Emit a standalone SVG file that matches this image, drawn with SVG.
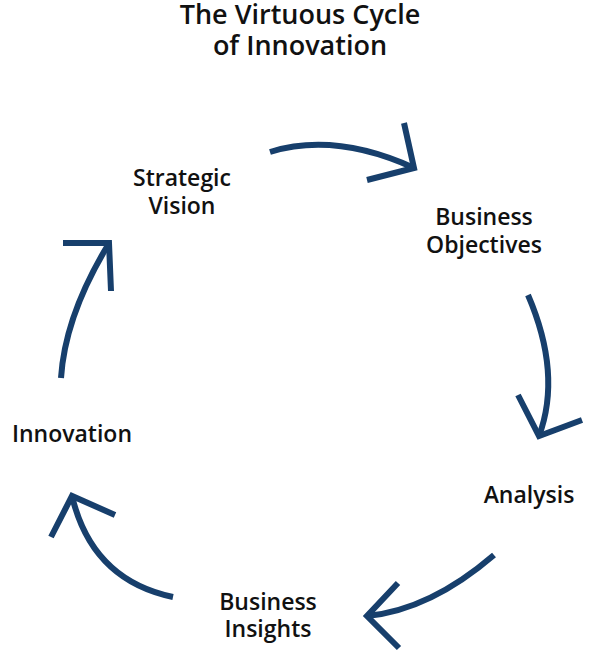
<svg xmlns="http://www.w3.org/2000/svg" width="600" height="662" viewBox="0 0 600 662">
<style>
.t{font-family:"Open Sans","Noto Sans","Liberation Sans",sans-serif;font-weight:550;fill:#111;text-anchor:middle}
.title{font-size:27px}
.lbl{font-size:23px}
.c{fill:none;stroke:#173f6c;stroke-width:6;stroke-linecap:butt;stroke-linejoin:miter}
</style>
<rect width="600" height="662" fill="#fff"/>
<g id="title">
<text class="t title" x="300" y="24">The Virtuous Cycle</text>
<text class="t title" x="300" y="55">of Innovation</text>
</g>
<g id="strategic-vision"><text class="t lbl" x="182" y="186">Strategic</text><text class="t lbl" x="182" y="214">Vision</text></g>
<g id="business-objectives"><text class="t lbl" x="484" y="225">Business</text><text class="t lbl" x="484" y="253">Objectives</text></g>
<g id="analysis"><text class="t lbl" x="529" y="503">Analysis</text></g>
<g id="business-insights"><text class="t lbl" x="268" y="610">Business</text><text class="t lbl" x="268" y="637">Insights</text></g>
<g id="innovation"><text class="t lbl" x="72" y="442">Innovation</text></g>
<g id="connectors">
<path class="c" d="M270,152 Q335,132 414,168"/>
<polyline class="c" points="404,123 414,168 367,180"/>
<path class="c" d="M528,295 Q562,374 539,436"/>
<polyline class="c" points="518,395 539,436 582,420"/>
<path class="c" d="M494,555 Q430,610 367,616"/>
<polyline class="c" points="398,583 367,616 399,648"/>
<path class="c" d="M173,597 Q92,580 72,496"/>
<polyline class="c" points="51,537 72,496 115,515"/>
<path class="c" d="M61,378 Q65,316 108,245"/>
<polyline class="c" points="63,243 109,243 111,291"/>
</g>
</svg>
